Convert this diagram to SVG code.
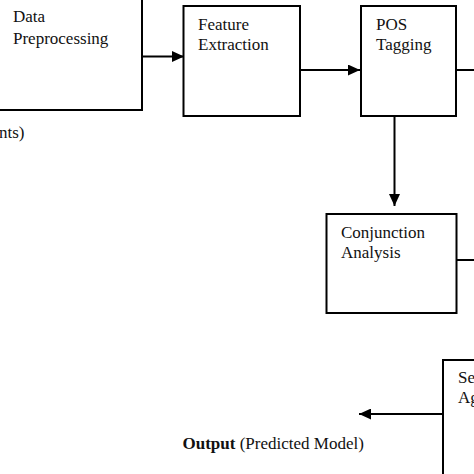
<svg xmlns="http://www.w3.org/2000/svg" width="474" height="474" viewBox="0 0 474 474">
<style>
.box{fill:#fff;stroke:#000;stroke-width:2}
.t{font-family:"Liberation Serif","Times New Roman",serif;font-size:17px;fill:#111}
.c{stroke:#000;stroke-width:2;fill:none}
</style>
<defs>
<marker id="ah" viewBox="0 0 12 11" refX="12" refY="5.5" markerWidth="12" markerHeight="11" markerUnits="userSpaceOnUse" orient="auto">
<path d="M0,0 L12,5.5 L0,11 z" fill="#000"/>
</marker>
</defs>
<rect width="474" height="474" fill="#fff"/>
<g id="connectors">
<line class="c" x1="142" y1="56.5" x2="184" y2="56.5" marker-end="url(#ah)"/>
<line class="c" x1="300" y1="70" x2="360" y2="70" marker-end="url(#ah)"/>
<line class="c" x1="456" y1="70" x2="476" y2="70"/>
<line class="c" x1="394.5" y1="116" x2="394.5" y2="206" marker-end="url(#ah)"/>
<line class="c" x1="456.5" y1="260" x2="476" y2="260"/>
<line class="c" x1="443" y1="414" x2="359" y2="414" marker-end="url(#ah)"/>
</g>
<g id="data-preprocessing">
<rect class="box" x="-10" y="-10" width="152" height="120"/>
<text class="t" x="13" y="22">Data</text>
<text class="t" x="13" y="44">Preprocessing</text>
</g>
<g id="feature-extraction">
<rect class="box" x="183.5" y="6" width="116.5" height="110"/>
<text class="t" x="198" y="30">Feature</text>
<text class="t" x="198" y="50">Extraction</text>
</g>
<g id="pos-tagging">
<rect class="box" x="361" y="6" width="95" height="110"/>
<text class="t" x="376" y="30">POS</text>
<text class="t" x="376" y="50">Tagging</text>
</g>
<g id="conjunction-analysis">
<rect class="box" x="326.5" y="214" width="130" height="99"/>
<text class="t" x="341" y="238">Conjunction</text>
<text class="t" x="341" y="258">Analysis</text>
</g>
<g id="se-box">
<rect class="box" x="443" y="360" width="40" height="120"/>
<text class="t" x="458" y="383">Se</text>
<text class="t" x="458" y="403">Ag</text>
</g>
<g id="labels">
<text class="t" x="-1" y="138">nts)</text>
<text class="t" x="182.5" y="449"><tspan font-weight="bold">Output</tspan> (Predicted Model)</text>
</g>
</svg>
